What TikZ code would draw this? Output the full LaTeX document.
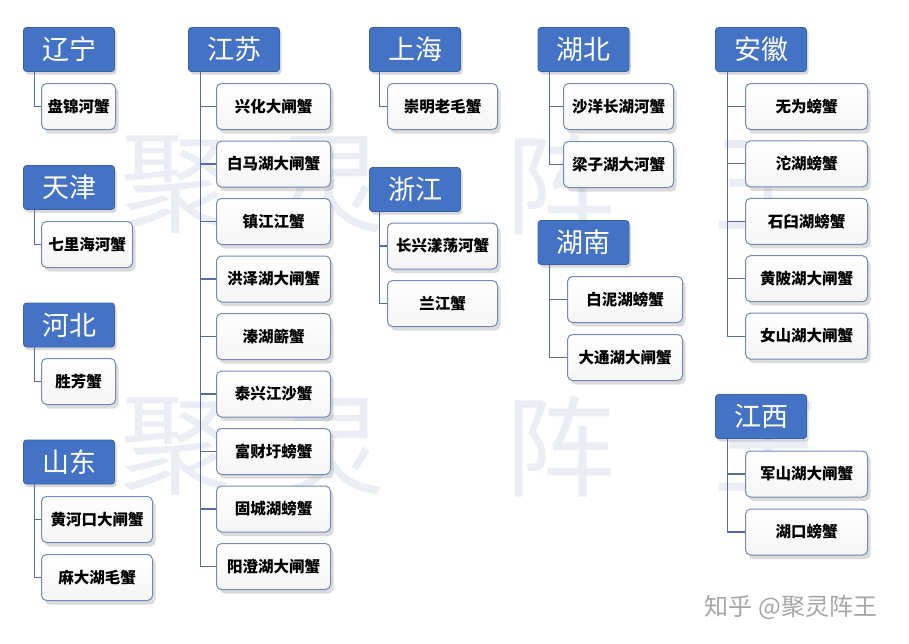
\documentclass[tikz,border=0pt]{standalone}
\usepackage{fontspec}
\setmainfont{Noto Sans CJK SC}
\usetikzlibrary{shadows}

\definecolor{provblue}{RGB}{68,114,196}
\definecolor{boxline}{RGB}{112,138,190}
\definecolor{linkblue}{RGB}{84,108,160}
\definecolor{wmgray}{RGB}{234,238,244}

\begin{document}
\begin{tikzpicture}[
    x=1pt, y=-1pt,
    prov/.style={
        rectangle,
        rounded corners=3pt,
        fill=provblue,
        draw=provblue!85!black,
        line width=0.8pt,
        text=white,
        font=\fontsize{27}{27}\selectfont,
        minimum width=91pt,
        minimum height=44pt,
        inner sep=0pt,
        drop shadow={shadow xshift=2pt, shadow yshift=-3pt, opacity=0.3}
    },
    crab/.style={
        rectangle,
        rounded corners=5pt,
        draw=boxline,
        line width=1pt,
        top color=white,
        bottom color=gray!8,
        font=\bfseries\fontsize{15.5}{15.5}\selectfont,
        minimum height=46pt,
        inner xsep=5pt,
        anchor=west,
        drop shadow={shadow xshift=3pt, shadow yshift=-4pt, opacity=0.28}
    },
    link/.style={draw=linkblue, line width=1.1pt},
    wm/.style={text=wmgray, font=\fontsize{110}{110}\selectfont}
]

% Canvas
\useasboundingbox (0, 0) rectangle (909, 643);
\fill[white] (0, 0) rectangle (909, 643);

% Watermark
\foreach \ch/\px [count=\k] in {聚/175, 灵/330, 阵/560, 王/768} {
    \node[wm] (wm-a\k) at (\px, 185) {\ch};
    \node[wm] (wm-b\k) at (\px, 447) {\ch};
}

% Liaoning, Tianjin, Hebei, Shandong
\node[prov] (ln) at (69, 49.5) {辽宁};
\node[crab, minimum width=74pt] (ln-1) at (41, 106.5) {盘锦河蟹};
\draw[link] ([xshift=11pt]ln.south west) |- (ln-1.west);

\node[prov] (tj) at (69, 187.5) {天津};
\node[crab, minimum width=91pt] (tj-1) at (41, 244.5) {七里海河蟹};
\draw[link] ([xshift=11pt]tj.south west) |- (tj-1.west);

\node[prov] (hb) at (69, 325) {河北};
\node[crab, minimum width=74pt] (hb-1) at (41, 381.5) {胜芳蟹};
\draw[link] ([xshift=11pt]hb.south west) |- (hb-1.west);

\node[prov] (sd) at (69, 462) {山东};
\node[crab, minimum width=111pt] (sd-1) at (41, 519.5) {黄河口大闸蟹};
\node[crab, minimum width=111pt] (sd-2) at (41, 577.5) {麻大湖毛蟹};
\draw[link] ([xshift=11pt]sd.south west) |- (sd-1.west);
\draw[link] ([xshift=11pt]sd.south west) |- (sd-2.west);

% Jiangsu
\node[prov] (js) at (234, 49.5) {江苏};
\foreach \t [count=\i] in {兴化大闸蟹, 白马湖大闸蟹, 镇江江蟹, 洪泽湖大闸蟹, 溱湖簖蟹,
        泰兴江沙蟹, 富财圩螃蟹, 固城湖螃蟹, 阳澄湖大闸蟹} {
    \node[crab, minimum width=114pt] (js-\i) at (216, {106.5+57.5*(\i-1)}) {\t};
    \draw[link] ([xshift=12pt]js.south west) |- (js-\i.west);
}

% Shanghai, Zhejiang
\node[prov] (sh) at (415, 49.5) {上海};
\node[crab, minimum width=110pt] (sh-1) at (387, 106.5) {崇明老毛蟹};
\draw[link] ([xshift=10pt]sh.south west) |- (sh-1.west);

\node[prov] (zj) at (415, 189.5) {浙江};
\node[crab, minimum width=110pt] (zj-1) at (387, 246) {长兴漾荡河蟹};
\node[crab, minimum width=110pt] (zj-2) at (387, 303.5) {兰江蟹};
\draw[link] ([xshift=10pt]zj.south west) |- (zj-1.west);
\draw[link] ([xshift=10pt]zj.south west) |- (zj-2.west);

% Hubei, Hunan
\node[prov] (hub) at (583.5, 49.5) {湖北};
\node[crab, minimum width=110pt] (hub-1) at (563, 106.5) {沙洋长湖河蟹};
\node[crab, minimum width=110pt] (hub-2) at (563, 164.5) {梁子湖大河蟹};
\draw[link] ([xshift=12pt]hub.south west) |- (hub-1.west);
\draw[link] ([xshift=12pt]hub.south west) |- (hub-2.west);

\node[prov] (hun) at (583.5, 242.5) {湖南};
\node[crab, minimum width=115pt] (hun-1) at (567, 299.5) {白泥湖螃蟹};
\node[crab, minimum width=115pt] (hun-2) at (567, 357.5) {大通湖大闸蟹};
\draw[link] ([xshift=12pt]hun.south west) |- (hun-1.west);
\draw[link] ([xshift=12pt]hun.south west) |- (hun-2.west);

% Anhui, Jiangxi
\node[prov] (ah) at (761, 49.5) {安徽};
\foreach \t [count=\i] in {无为螃蟹, 沱湖螃蟹, 石臼湖螃蟹, 黄陂湖大闸蟹, 女山湖大闸蟹} {
    \node[crab, minimum width=122pt] (ah-\i) at (745, {106.5+57.4*(\i-1)}) {\t};
    \draw[link] ([xshift=12pt]ah.south west) |- (ah-\i.west);
}

\node[prov] (jx) at (761, 416.5) {江西};
\node[crab, minimum width=122pt] (jx-1) at (745, 474) {军山湖大闸蟹};
\node[crab, minimum width=122pt] (jx-2) at (745, 532) {湖口螃蟹};
\draw[link] ([xshift=12pt]jx.south west) |- (jx-1.west);
\draw[link] ([xshift=12pt]jx.south west) |- (jx-2.west);

% Source mark
\node[text=gray!70, font=\fontsize{24}{24}\selectfont] (src) at (791, 607) {知乎 @聚灵阵王};

\end{tikzpicture}
\end{document}
